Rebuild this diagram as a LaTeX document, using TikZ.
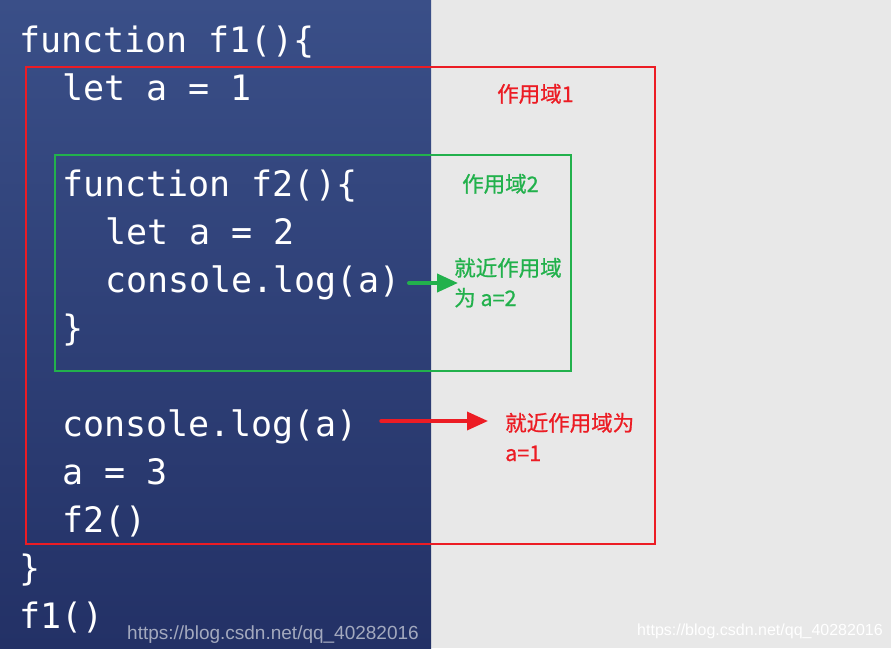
\documentclass[tikz,border=0pt]{standalone}
\usepackage{fontspec}
\setmainfont{Liberation Sans}
\newfontfamily\codefont{DejaVu Sans Mono}
\newfontfamily\cjk[FakeBold=0.8]{Noto Sans CJK SC}
\usetikzlibrary{arrows.meta}
\definecolor{panelTop}{HTML}{3A4F88}
\definecolor{panelBot}{HTML}{233166}
\definecolor{bgGray}{HTML}{E8E8E8}
\definecolor{scopeRed}{HTML}{EC1C24}
\definecolor{scopeGreen}{HTML}{22B14C}
\definecolor{wmDark}{HTML}{A3A9BE}
\begin{document}
\begin{tikzpicture}[x=1pt,y=-1pt,
  code/.style={anchor=base west, inner sep=0pt, text=white, font=\codefont\fontsize{35}{35}\selectfont},
  lab/.style={anchor=base west, inner sep=0pt, font=\cjk\fontsize{21.5}{21.5}\selectfont},
  redlab/.style={lab, text=scopeRed},
  greenlab/.style={lab, text=scopeGreen},
  scopebox/.style={line width=2.5pt},
  arr/.style={line width=#1, line cap=round, -{Triangle[length=21pt,width=18pt]}},
  wm/.style={anchor=base west, inner sep=0pt}
]
\useasboundingbox (0,0) rectangle (891,648);
\fill[bgGray] (0,0) rectangle (891,648);
\shade[top color=panelTop, bottom color=panelBot] (0,0) rectangle (431,648);

% code lines
\node[code] (c0) at (19,52) {function f1()\{};
\node[code] (c1) at (62,100) {let a = 1};
\node[code] (c3) at (62,196) {function f2()\{};
\node[code] (c4) at (105,244) {let a = 2};
\node[code] (c5) at (105,292) {console.log(a)};
\node[code] (c6) at (62,340) {\}};
\node[code] (c8) at (62,436) {console.log(a)};
\node[code] (c9) at (62,484) {a = 3};
\node[code] (c10) at (62,532) {f2()};
\node[code] (c11) at (19,580) {\}};
\node[code] (c12) at (19,628) {f1()};

% scope boxes
\draw[scopebox, scopeRed] (26,67) rectangle (655,544);
\draw[scopebox, scopeGreen] (55,155) rectangle (571,371);

% labels
\node[redlab] (s1) at (497,102) {作用域1};
\node[greenlab] (s2) at (462,192) {作用域2};
\node[greenlab] (g1) at (454,276) {就近作用域};
\node[greenlab] (g2) at (454,306) {为 a=2};
\node[redlab] (r1) at (505,431) {就近作用域为};
\node[redlab] (r2) at (505,461) {a=1};

% arrows
\coordinate (gs) at (409,283);
\coordinate (ge) at (458,283);
\draw[arr=4pt, scopeGreen] (gs) -- (ge);
\coordinate (rs) at (381,421);
\coordinate (re) at (488,421);
\draw[arr=3.5pt, scopeRed] (rs) -- (re);

% watermarks
\node[wm, text=wmDark, font=\fontsize{19}{19}\selectfont] (w1) at (127,639) {https://blog.csdn.net/qq\_40282016};
\node[wm, text=white, font=\fontsize{16}{16}\selectfont] (w2) at (637,635) {https://blog.csdn.net/qq\_40282016};
\end{tikzpicture}
\end{document}
